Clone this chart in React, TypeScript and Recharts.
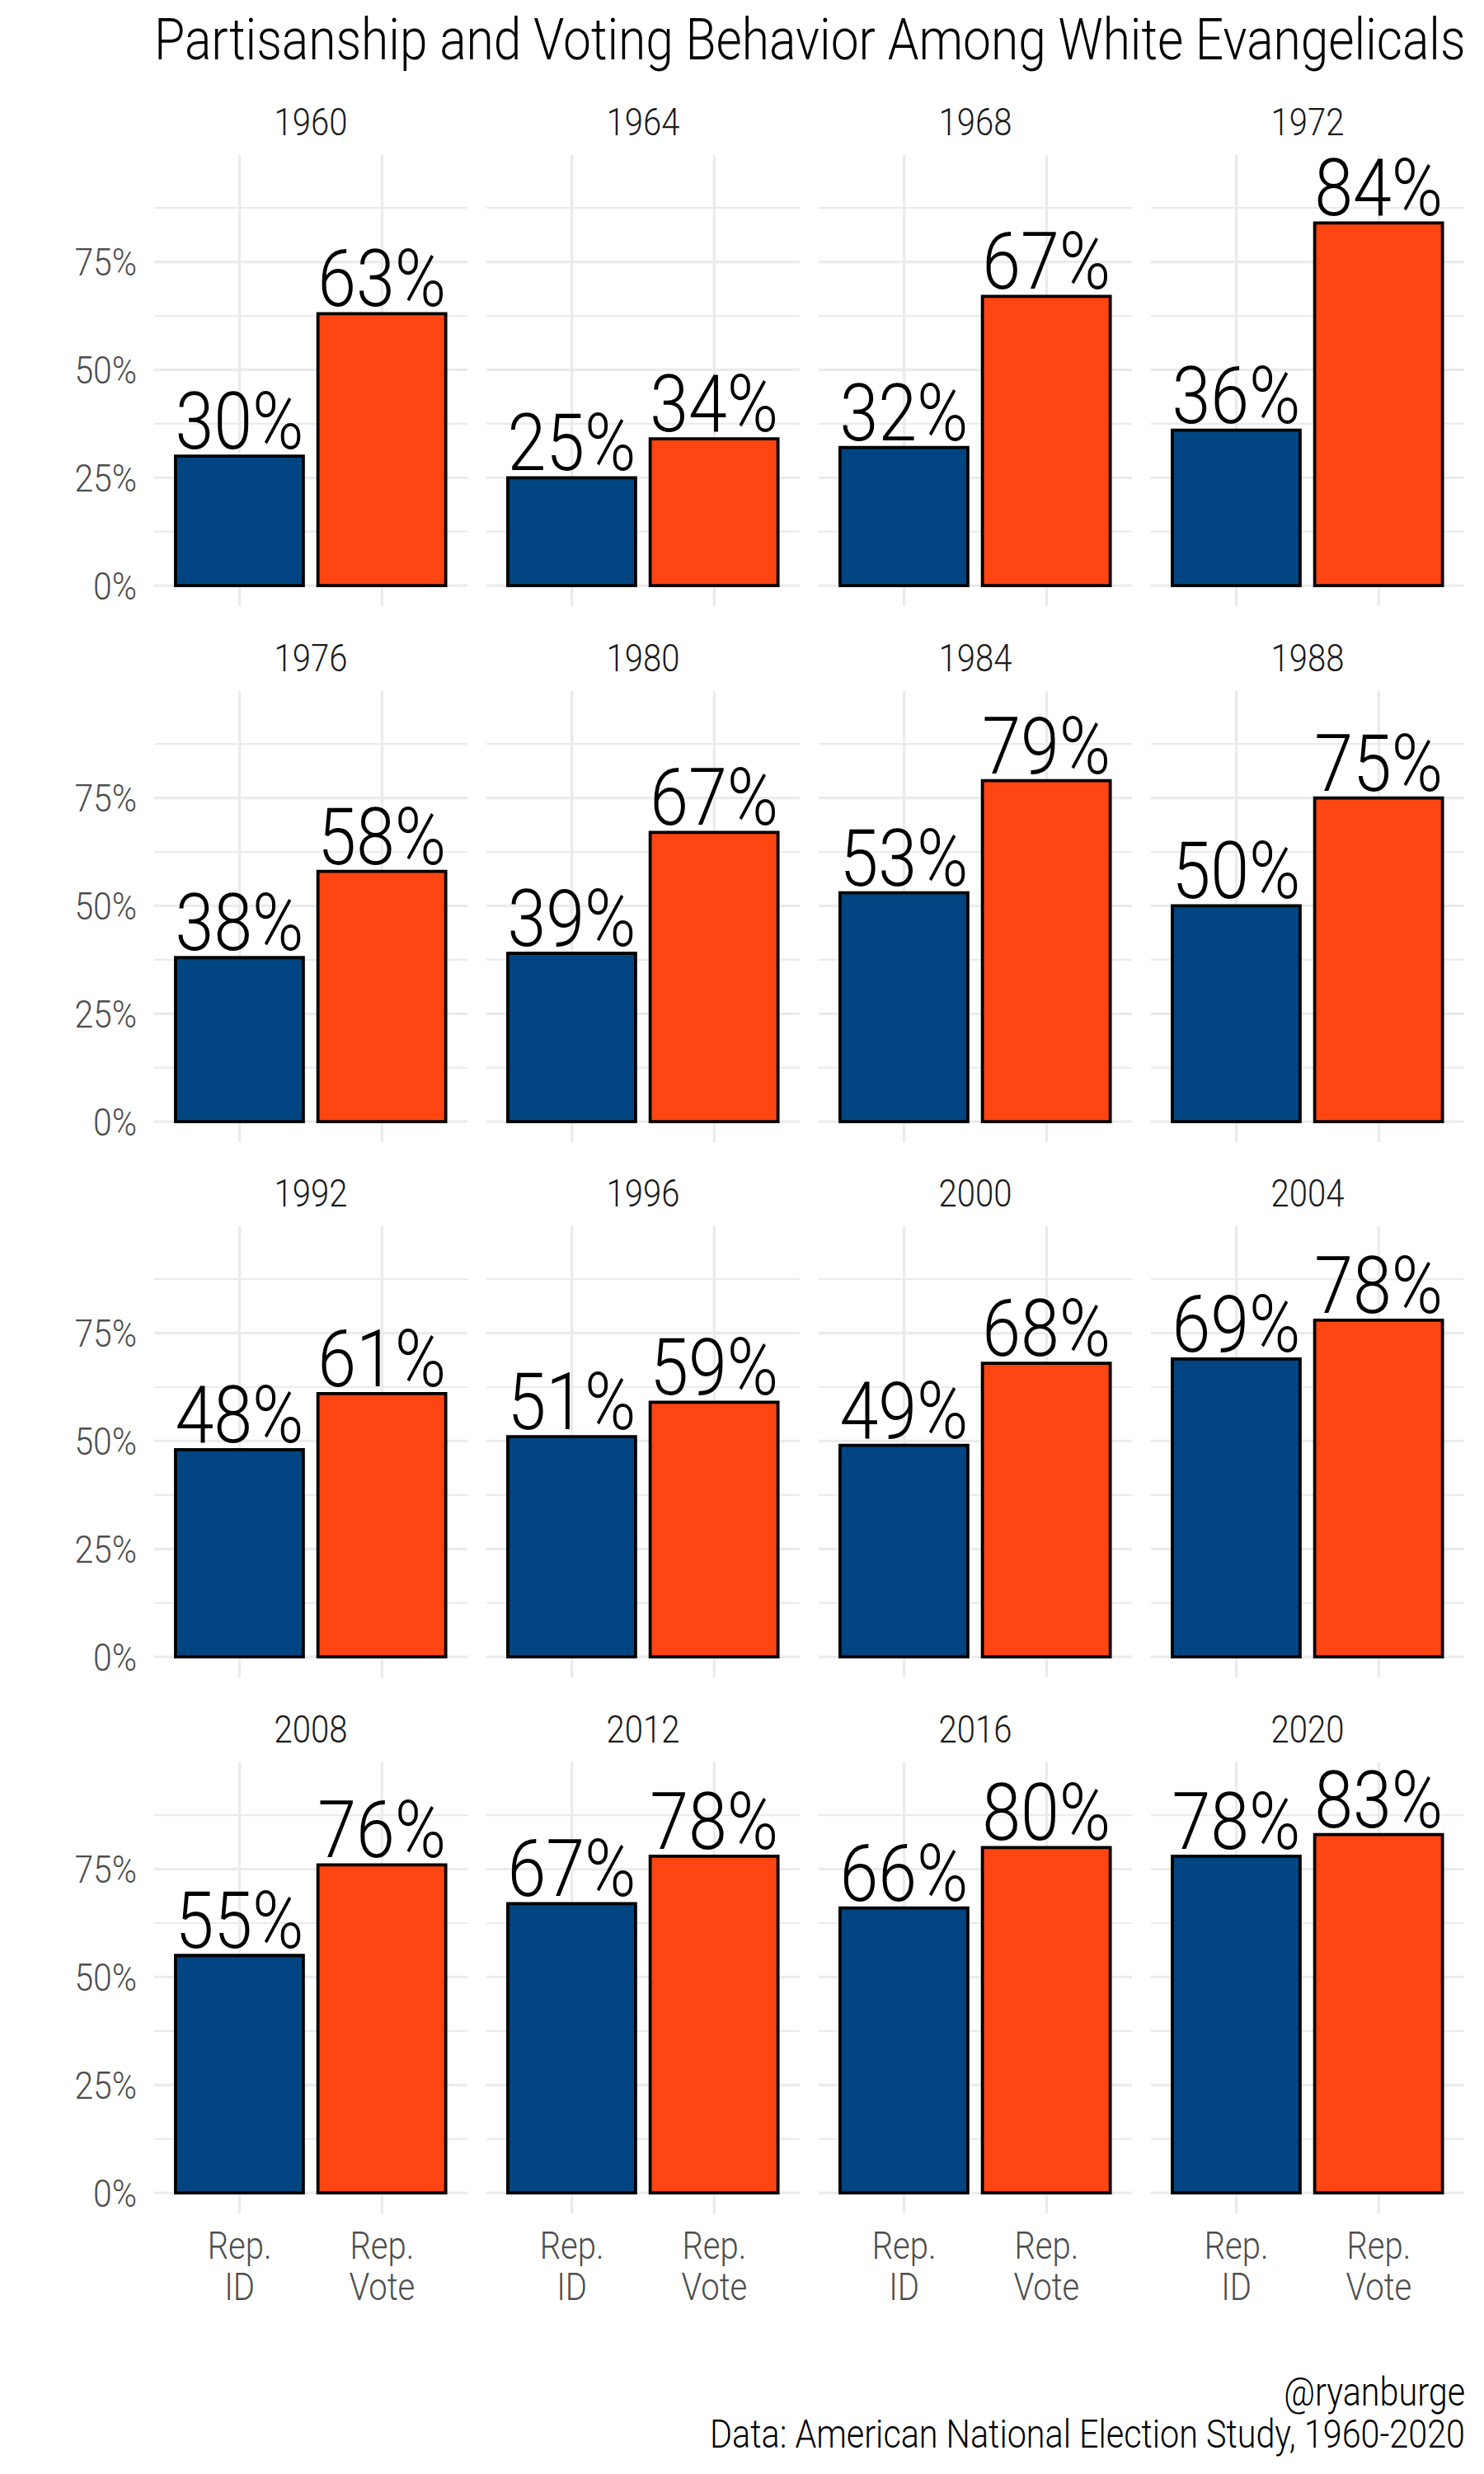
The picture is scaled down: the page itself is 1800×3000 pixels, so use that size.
import React from 'react';
import { BarChart, Bar, XAxis, YAxis, Cell, LabelList, CartesianGrid } from 'recharts';

// ---- data ----
const years = ['1960', '1964', '1968', '1972', '1976', '1980', '1984', '1988', '1992', '1996', '2000', '2004', '2008', '2012', '2016', '2020'];
const repId = [30, 25, 32, 36, 38, 39, 53, 50, 48, 51, 49, 69, 55, 67, 66, 78];
const repVote = [63, 34, 67, 84, 58, 67, 79, 75, 61, 59, 68, 78, 76, 78, 80, 83];
const categories = ['Rep.\nID', 'Rep.\nVote'];
const yMajorTicks = [0, 25, 50, 75];
const yMinorTicks = [12.5, 37.5, 62.5, 87.5];
const titleText = 'Partisanship and Voting Behavior Among White Evangelicals';
const captionLines = ['@ryanburge', 'Data: American National Election Study, 1960-2020'];

// ---- styling ----
const BAR_COLORS = ['#004582', '#FF4512'];
const GRID = '#EBEBEB';
const FONT = 'Roboto, "Open Sans", sans-serif';
const SQUEEZE = 0.87; // horizontal condensing of the text face
const WEIGHT = 300;

// ---- layout ----
const PANEL_W = 380;
const PANEL_H = 547;
const COL_X0 = 187;
const COL_STEP = 403;
const ROW_Y0 = 188;
const ROW_STEP = 649.5;
const Y_AXIS_W = COL_X0;
const X_AXIS_H = 110;
const N_COLS = 4;
const N_ROWS = 4;
const Y_DOMAIN: [number, number] = [-4.75, 99.75];
const X_PAD = (PANEL_W - PANEL_W / 1.1) / 2;
// breathing room around each panel so value labels stay inside the svg
const M_TOP = 100;
const M_BOTTOM = 40;
const M_RIGHT = 30;

const pct = (v: number) => `${v}%`;

function CondensedText({ x, y, size, anchor = 'start', fill = '#000', children }: any) {
  return (
    <text
      transform={`translate(${x},${y}) scale(${SQUEEZE},1)`}
      x={0}
      y={0}
      fontSize={size}
      fontFamily={FONT}
      fontWeight={WEIGHT}
      textAnchor={anchor}
      fill={fill}
    >
      {children}
    </text>
  );
}

function YTick(props: any) {
  const { x, y, payload } = props;
  return (
    <CondensedText x={x} y={y + 16.5} size={47} anchor="end" fill="#4D4D4D">
      {pct(payload.value)}
    </CondensedText>
  );
}

function XTick(props: any) {
  const { x, y, payload } = props;
  const lines = String(payload.value).split('\n');
  return (
    <g>
      {lines.map((ln, i) => (
        <CondensedText key={i} x={x} y={y + 44.5 + i * 50} size={46} anchor="middle" fill="#4D4D4D">
          {ln}
        </CondensedText>
      ))}
    </g>
  );
}

function BarValueLabel(props: any) {
  const { x, y, width, value } = props;
  return (
    <CondensedText x={x + width / 2} y={y - 9} size={97} anchor="middle" fill="#000">
      {pct(value)}
    </CondensedText>
  );
}

function Panel({ idx }: { idx: number }) {
  const row = Math.floor(idx / N_COLS);
  const col = idx % N_COLS;
  const showY = col === 0;
  const showX = row === N_ROWS - 1;
  const left = COL_X0 + col * COL_STEP - (showY ? Y_AXIS_W : 0);
  const top = ROW_Y0 + row * ROW_STEP - M_TOP;
  const width = PANEL_W + (showY ? Y_AXIS_W : 0) + M_RIGHT;
  const height = M_TOP + PANEL_H + (showX ? X_AXIS_H : 0) + M_BOTTOM;
  const data = [
    { cat: categories[0], v: repId[idx] },
    { cat: categories[1], v: repVote[idx] },
  ];

  return (
    <div style={{ position: 'absolute', left, top, width, height }}>
      <BarChart
        width={width}
        height={height}
        data={data}
        margin={{ top: M_TOP, right: M_RIGHT, bottom: M_BOTTOM, left: 0 }}
        barCategoryGap="5%"
      >
        <CartesianGrid yAxisId="minor" vertical={false} syncWithTicks stroke={GRID} strokeWidth={2.2} />
        <CartesianGrid yAxisId="major" syncWithTicks stroke={GRID} strokeWidth={3.2} />
        <XAxis
          dataKey="cat"
          type="category"
          hide={!showX}
          height={X_AXIS_H}
          padding={{ left: X_PAD, right: X_PAD }}
          axisLine={false}
          tickLine={false}
          tickSize={6}
          tickMargin={4}
          interval={0}
          tick={<XTick />}
        />
        <YAxis
          yAxisId="major"
          type="number"
          domain={Y_DOMAIN}
          allowDataOverflow
          ticks={yMajorTicks}
          hide={!showY}
          width={Y_AXIS_W}
          axisLine={false}
          tickLine={false}
          tickSize={6}
          tickMargin={15}
          tick={<YTick />}
        />
        <YAxis yAxisId="minor" type="number" domain={Y_DOMAIN} allowDataOverflow ticks={yMinorTicks} hide />
        <Bar yAxisId="major" dataKey="v" stroke="#000" strokeWidth={3.8} isAnimationActive={false}>
          {data.map((d, i) => (
            <Cell key={d.cat} fill={BAR_COLORS[i]} />
          ))}
          <LabelList dataKey="v" content={<BarValueLabel />} />
        </Bar>
      </BarChart>
    </div>
  );
}

export default function App() {
  return (
    <div style={{ position: 'absolute', left: 0, top: 0, width: 1800, height: 3000, background: '#fff', overflow: 'hidden' }}>
      <svg width={1800} height={3000} style={{ position: 'absolute', left: 0, top: 0 }}>
        <CondensedText x={COL_X0} y={72} size={69.5}>
          {titleText}
        </CondensedText>
        {years.map((yr, i) => {
          const row = Math.floor(i / N_COLS);
          const col = i % N_COLS;
          return (
            <CondensedText
              key={yr}
              x={COL_X0 + col * COL_STEP + PANEL_W / 2}
              y={ROW_Y0 + row * ROW_STEP - 24}
              size={46}
              anchor="middle"
              fill="#1A1A1A"
            >
              {yr}
            </CondensedText>
          );
        })}
        {captionLines.map((ln, i) => (
          <CondensedText key={i} x={1777} y={2917 + i * 51} size={47.5} anchor="end">
            {ln}
          </CondensedText>
        ))}
      </svg>
      {years.map((yr, i) => (
        <Panel key={yr} idx={i} />
      ))}
    </div>
  );
}
